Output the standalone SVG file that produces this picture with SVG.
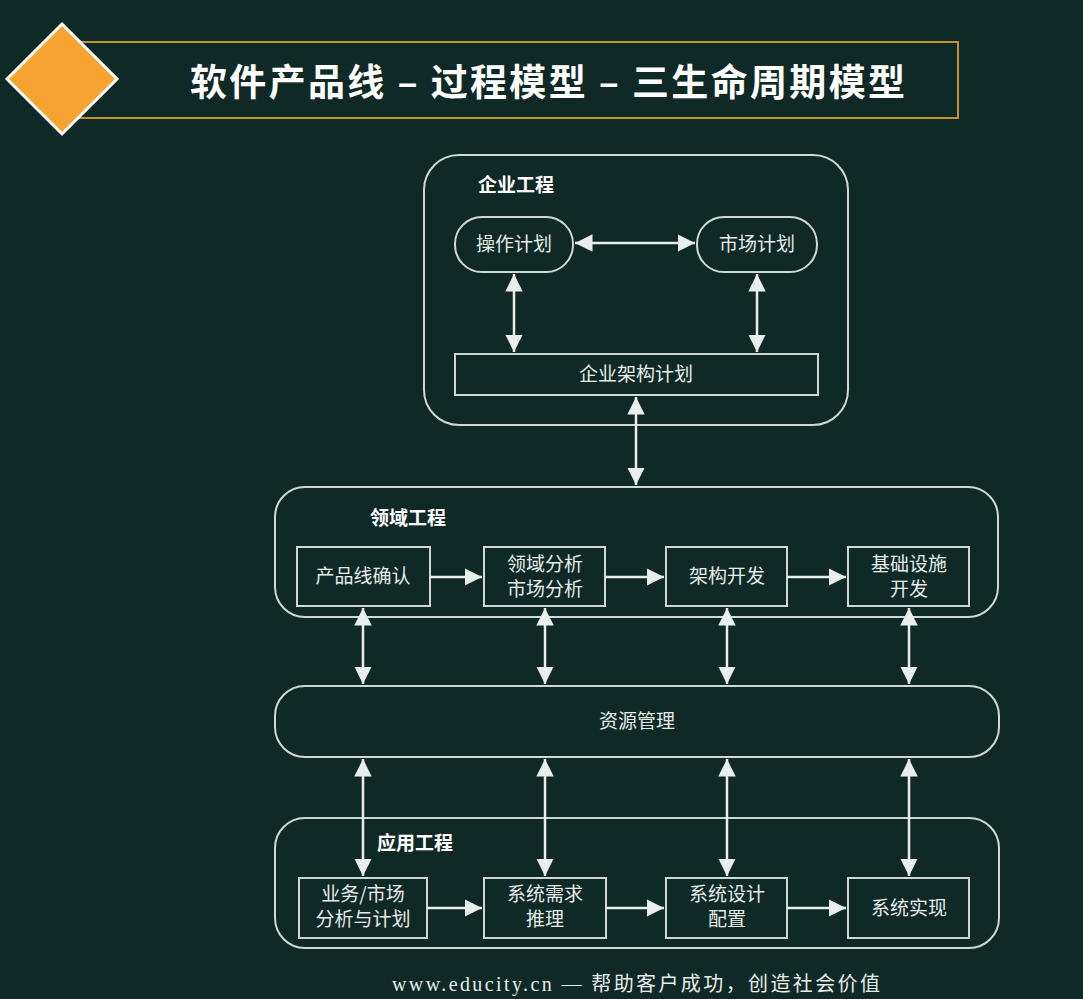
<svg xmlns="http://www.w3.org/2000/svg" width="1083" height="999" viewBox="0 0 1083 999">
<defs>
<marker id="ah" viewBox="0 0 10 10" refX="10" refY="5" markerWidth="7" markerHeight="7" orient="auto-start-reverse"><path d="M0,0 L10,5 L0,10 Z" fill="#e8eeeb"/></marker>
<style>
.c{fill:none;stroke:#cfd8d4;stroke-width:2}
.b{fill:#0f2a26;stroke:#cfd8d4;stroke-width:2}
.t{font-family:"Noto Sans CJK SC","Noto Sans",sans-serif;font-size:19px;fill:#e6ece9;text-anchor:middle}
.h{font-family:"Noto Sans CJK SC",sans-serif;font-size:19px;font-weight:bold;fill:#ffffff}
.a{stroke:#e8eeeb;stroke-width:2.5;fill:none;marker-start:url(#ah);marker-end:url(#ah)}
.s{stroke:#e8eeeb;stroke-width:2.5;fill:none;marker-end:url(#ah)}
</style>
</defs>
<rect width="1083" height="999" fill="#0f2a26"/>
<g id="header">
<rect x="62" y="42" width="896" height="76" fill="#0f2a26" stroke="#c8902a" stroke-width="2"/>
<polygon points="62,24 117,79 62,134 7,79" fill="#f5a431" stroke="#ffffff" stroke-width="3"/>
<text x="190" y="96" font-family="'Noto Sans CJK SC',sans-serif" font-size="37" font-weight="bold" fill="#ffffff" textLength="715" lengthAdjust="spacing">软件产品线 – 过程模型 – 三生命周期模型</text>
</g>
<g id="enterprise">
<rect class="c" x="424" y="155" width="424" height="270" rx="35"/>
<text class="h" x="478" y="192">企业工程</text>
</g>
<g id="op"><rect class="b" x="455" y="217" width="118" height="55" rx="27"/><text class="t" x="514" y="251">操作计划</text></g>
<g id="mk"><rect class="b" x="697" y="217" width="120" height="55" rx="27"/><text class="t" x="757" y="251">市场计划</text></g>
<g id="ea"><rect class="b" x="455" y="354" width="363" height="41"/><text class="t" x="636" y="381">企业架构计划</text></g>
<g id="domain">
<rect class="c" x="275" y="487" width="723" height="130" rx="30"/>
<text class="h" x="370" y="525">领域工程</text>
</g>
<g id="d1"><rect class="b" x="297" y="547" width="133" height="59"/><text class="t" x="363" y="583">产品线确认</text></g>
<g id="d2"><rect class="b" x="484" y="547" width="121" height="59"/><text class="t" x="545" y="571">领域分析</text><text class="t" x="545" y="596">市场分析</text></g>
<g id="d3"><rect class="b" x="666" y="547" width="121" height="59"/><text class="t" x="727" y="583">架构开发</text></g>
<g id="d4"><rect class="b" x="848" y="547" width="121" height="59"/><text class="t" x="909" y="571">基础设施</text><text class="t" x="909" y="596">开发</text></g>
<g id="res"><rect class="c" x="275" y="686" width="724" height="71" rx="30"/><text class="t" x="637" y="728">资源管理</text></g>
<g id="app">
<rect class="c" x="275" y="818" width="724" height="130" rx="30"/>
<text class="h" x="377" y="850">应用工程</text>
</g>
<g id="a1"><rect class="b" x="299" y="878" width="128" height="60"/><text class="t" x="363" y="901">业务/市场</text><text class="t" x="363" y="926">分析与计划</text></g>
<g id="a2"><rect class="b" x="484" y="878" width="122" height="60"/><text class="t" x="545" y="901">系统需求</text><text class="t" x="545" y="926">推理</text></g>
<g id="a3"><rect class="b" x="666" y="878" width="121" height="60"/><text class="t" x="727" y="901">系统设计</text><text class="t" x="727" y="926">配置</text></g>
<g id="a4"><rect class="b" x="848" y="878" width="121" height="60"/><text class="t" x="909" y="915">系统实现</text></g>
<g id="connectors">
<line class="a" x1="575" y1="243" x2="695" y2="243"/>
<line class="a" x1="514" y1="274" x2="514" y2="352"/>
<line class="a" x1="757" y1="274" x2="757" y2="352"/>
<line class="a" x1="636" y1="397" x2="636" y2="485"/>
<line class="s" x1="430" y1="577" x2="482" y2="577"/>
<line class="s" x1="605" y1="577" x2="664" y2="577"/>
<line class="s" x1="787" y1="577" x2="846" y2="577"/>
<line class="a" x1="363" y1="608" x2="363" y2="684"/>
<line class="a" x1="545" y1="608" x2="545" y2="684"/>
<line class="a" x1="727" y1="608" x2="727" y2="684"/>
<line class="a" x1="909" y1="608" x2="909" y2="684"/>
<line class="a" x1="363" y1="759" x2="363" y2="876"/>
<line class="a" x1="545" y1="759" x2="545" y2="876"/>
<line class="a" x1="727" y1="759" x2="727" y2="876"/>
<line class="a" x1="909" y1="759" x2="909" y2="876"/>
<line class="s" x1="427" y1="908" x2="482" y2="908"/>
<line class="s" x1="606" y1="908" x2="664" y2="908"/>
<line class="s" x1="787" y1="908" x2="846" y2="908"/>
</g>
<text x="392" y="991" font-family="'Liberation Serif','Noto Sans CJK SC',serif" font-size="20" fill="#e6ece9" textLength="488" lengthAdjust="spacing">www.educity.cn — 帮助客户成功，创造社会价值</text>
</svg>
